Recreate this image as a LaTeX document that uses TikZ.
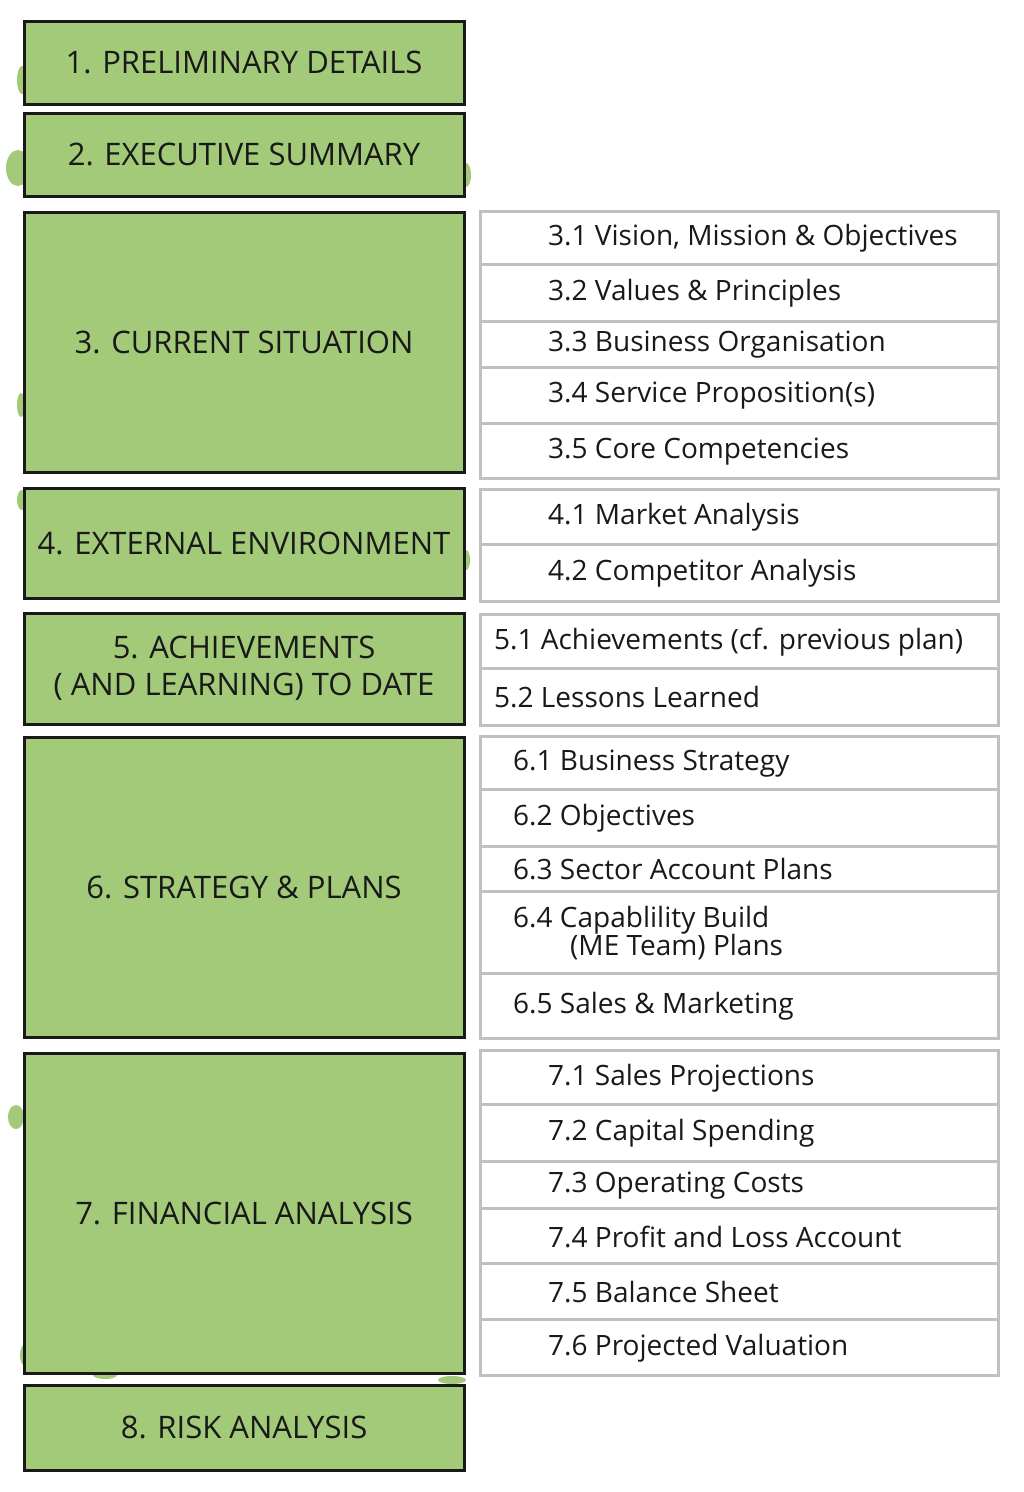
\documentclass[tikz,border=0pt]{standalone}
\usepackage{fontspec}
\setmainfont{Open Sans}
\definecolor{boxgreen}{RGB}{163,202,120}
\definecolor{tabgray}{RGB}{192,192,192}
\definecolor{ink}{RGB}{25,25,25}
\newcommand\rowitem[5]{%
  \node[rowbox, minimum height={#3-#2}, anchor=north west] (#1) at (479,#2) {};
  \node[itemtext, anchor=west] (#1t) at (#4,{(#2+#3)/2+2}) {#5};}
\begin{document}
\begin{tikzpicture}[x=1pt,y=-1pt,
  gbox/.style={draw=ink, fill=boxgreen, line width=3pt, minimum width=440, inner sep=0pt,
    font=\fontsize{31}{37}\selectfont, text=ink, align=center},
  blob/.style={fill=boxgreen, draw=none},
  rowbox/.style={draw=tabgray, line width=3pt, minimum width=518, inner sep=0pt},
  itemtext/.style={font=\fontsize{28}{27}\selectfont, text=ink, inner sep=0pt, align=left}]
\useasboundingbox (0,0) rectangle (1024,1492);
\fill[white] (0,0) rectangle (1024,1492);
% paint blobs
\fill[blob] (18,168) ellipse (12 and 18);
\fill[blob] (22,80) ellipse (5 and 14);
\fill[blob] (466,175) ellipse (5 and 12);
\fill[blob] (21,405) ellipse (4 and 12);
\fill[blob] (22,500) ellipse (5 and 10);
\fill[blob] (466,560) ellipse (4 and 10);
\fill[blob] (16,1117) ellipse (8 and 12);
\fill[blob] (24,1355) ellipse (4 and 10);
\fill[blob] (105,1375) ellipse (12 and 4);
\fill[blob] (452,1380) ellipse (14 and 4);
% left boxes
\node[gbox, minimum height=83] (b1) at (244,62.5) {1. PRELIMINARY DETAILS};
\node[gbox, minimum height=83] (b2) at (244,154.5) {2. EXECUTIVE SUMMARY};
\node[gbox, minimum height=260] (b3) at (244,342) {3. CURRENT SITUATION};
\node[gbox, minimum height=110] (b4) at (244,543) {4. EXTERNAL ENVIRONMENT};
\node[gbox, minimum height=111] (b5) at (244,668.5) {5. ACHIEVEMENTS\\( AND LEARNING) TO DATE};
\node[gbox, minimum height=300] (b6) at (244,887) {6. STRATEGY \& PLANS};
\node[gbox, minimum height=320] (b7) at (244,1213) {7. FINANCIAL ANALYSIS};
\node[gbox, minimum height=85] (b8) at (244,1427.5) {8. RISK ANALYSIS};
% table 3
\rowitem{r31}{210}{263}{548}{3.1 Vision, Mission \& Objectives}
\rowitem{r32}{263}{320}{548}{3.2 Values \& Principles}
\rowitem{r33}{320}{366}{548}{3.3 Business Organisation}
\rowitem{r34}{366}{422}{548}{3.4 Service Proposition(s)}
\rowitem{r35}{422}{477}{548}{3.5 Core Competencies}
% table 4
\rowitem{r41}{488}{543}{548}{4.1 Market Analysis}
\rowitem{r42}{543}{600}{548}{4.2 Competitor Analysis}
% table 5
\rowitem{r51}{613}{667}{494}{5.1 Achievements (cf. previous plan)}
\rowitem{r52}{667}{724}{494}{5.2 Lessons Learned}
% table 6
\rowitem{r61}{735}{788}{513}{6.1 Business Strategy}
\rowitem{r62}{788}{845}{513}{6.2 Objectives}
\rowitem{r63}{845}{890}{513}{6.3 Sector Account Plans}
\node[rowbox, minimum height=82, anchor=north west] (r64) at (479,890) {};
\node[itemtext, anchor=west] (r64t) at (513,920) {6.4 Capablility Build};
\node[itemtext, anchor=west] (r64u) at (570,947) {(ME Team) Plans};
\rowitem{r65}{972}{1037}{513}{6.5 Sales \& Marketing}
% table 7
\rowitem{r71}{1049}{1103}{548}{7.1 Sales Projections}
\rowitem{r72}{1103}{1160}{548}{7.2 Capital Spending}
\rowitem{r73}{1160}{1207}{548}{7.3 Operating Costs}
\rowitem{r74}{1207}{1262}{548}{7.4 Profit and Loss Account}
\rowitem{r75}{1262}{1318}{548}{7.5 Balance Sheet}
\rowitem{r76}{1318}{1374}{548}{7.6 Projected Valuation}
\end{tikzpicture}
\end{document}
